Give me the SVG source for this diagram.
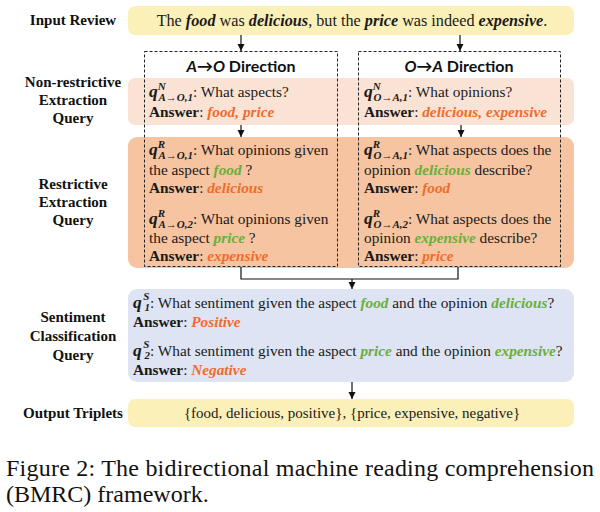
<svg xmlns="http://www.w3.org/2000/svg" width="600" height="512" viewBox="0 0 600 512">
<style>
.lbl{font-family:"Liberation Serif",serif;font-size:15px;font-weight:bold;text-anchor:middle;fill:#111}
.tx{font-family:"Liberation Serif",serif;font-size:15.3px;fill:#1a1a1a}
.b{font-weight:bold}
.bi{font-weight:bold;font-style:italic}
.or{fill:#EF6C2B;font-weight:bold;font-style:italic}
.gr{fill:#6AAF3A;font-weight:bold;font-style:italic}
.q{font-size:17.5px;font-weight:bold;font-style:italic}
.s{font-size:11px;font-weight:bold;font-style:italic}
.dir{font-family:Lato,"Liberation Sans",sans-serif;font-size:16px;font-weight:bold;text-anchor:middle;fill:#111}
.dir .i{font-style:italic}
.cap{font-family:"Liberation Serif",serif;font-size:24px;fill:#111}
.dash{fill:none;stroke:#222;stroke-width:1;stroke-dasharray:3 2}
.con{fill:none;stroke:#111;stroke-width:1.2}
</style>
<defs>
<marker id="ah" markerWidth="8" markerHeight="8" refX="7" refY="4" orient="auto" markerUnits="userSpaceOnUse">
<path d="M0,0.5 L7,4 L0,7.5 z" fill="#111"/>
</marker>
</defs>

<g id="labels">
<text class="lbl" x="73" y="25">Input Review</text>
<text class="lbl" x="73" y="87">Non-restrictive</text>
<text class="lbl" x="73" y="105">Extraction</text>
<text class="lbl" x="73" y="123">Query</text>
<text class="lbl" x="73" y="189">Restrictive</text>
<text class="lbl" x="73" y="207">Extraction</text>
<text class="lbl" x="73" y="225">Query</text>
<text class="lbl" x="73" y="322">Sentiment</text>
<text class="lbl" x="73" y="341">Classification</text>
<text class="lbl" x="73" y="360">Query</text>
<text class="lbl" x="73" y="418">Output Triplets</text>
</g>

<g id="input-review">
<rect x="128" y="6" width="446" height="29" rx="7" fill="#FCF0B9"/>
<text class="tx" x="352" y="25.5" text-anchor="middle" style="font-size:16.2px">The <tspan class="bi">food</tspan> was <tspan class="bi">delicious</tspan>, but the <tspan class="bi">price</tspan> was indeed <tspan class="bi">expensive</tspan>.</text>
</g>

<g id="nonrestrictive-band">
<rect x="128" y="78" width="446" height="47" rx="7" fill="#FAE3D5"/>
</g>
<g id="restrictive-band">
<rect x="128" y="137" width="446" height="131" rx="9" fill="#F6C4A1"/>
</g>

<g id="a2o-direction">
<rect class="dash" x="144.5" y="51.5" width="193" height="215"/>
<text class="dir" x="241" y="72"><tspan class="i">A</tspan>→<tspan class="i">O</tspan> Direction</text>
<text class="tx" x="149" y="97"><tspan class="q">q</tspan><tspan class="s" dy="-7.5">N</tspan><tspan class="s" x="158.5" dy="11.5">A→O,1</tspan><tspan dy="-4">: What aspects?</tspan></text>
<text class="tx" x="149" y="117"><tspan class="b">Answer</tspan>: <tspan class="or">food, price</tspan></text>
<text class="tx" x="149" y="155"><tspan class="q">q</tspan><tspan class="s" dy="-7.5">R</tspan><tspan class="s" x="158.5" dy="11.5">A→O,1</tspan><tspan dy="-4">: What opinions given</tspan></text>
<text class="tx" x="149" y="175">the aspect <tspan class="gr">food</tspan> ?</text>
<text class="tx" x="149" y="193"><tspan class="b">Answer</tspan>: <tspan class="or">delicious</tspan></text>
<text class="tx" x="149" y="224"><tspan class="q">q</tspan><tspan class="s" dy="-7.5">R</tspan><tspan class="s" x="158.5" dy="11.5">A→O,2</tspan><tspan dy="-4">: What opinions given</tspan></text>
<text class="tx" x="149" y="243">the aspect <tspan class="gr">price</tspan> ?</text>
<text class="tx" x="149" y="261"><tspan class="b">Answer</tspan>: <tspan class="or">expensive</tspan></text>
</g>

<g id="o2a-direction">
<rect class="dash" x="358.5" y="51.5" width="202" height="215"/>
<text class="dir" x="459" y="72"><tspan class="i">O</tspan>→<tspan class="i">A</tspan> Direction</text>
<text class="tx" x="364" y="97"><tspan class="q">q</tspan><tspan class="s" dy="-7.5">N</tspan><tspan class="s" x="373.5" dy="11.5">O→A,1</tspan><tspan dy="-4">: What opinions?</tspan></text>
<text class="tx" x="364" y="117"><tspan class="b">Answer</tspan>: <tspan class="or">delicious, expensive</tspan></text>
<text class="tx" x="364" y="155"><tspan class="q">q</tspan><tspan class="s" dy="-7.5">R</tspan><tspan class="s" x="373.5" dy="11.5">O→A,1</tspan><tspan dy="-4">: What aspects does the</tspan></text>
<text class="tx" x="364" y="175">opinion <tspan class="gr">delicious</tspan> describe?</text>
<text class="tx" x="364" y="193"><tspan class="b">Answer</tspan>: <tspan class="or">food</tspan></text>
<text class="tx" x="364" y="224"><tspan class="q">q</tspan><tspan class="s" dy="-7.5">R</tspan><tspan class="s" x="373.5" dy="11.5">O→A,2</tspan><tspan dy="-4">: What aspects does the</tspan></text>
<text class="tx" x="364" y="243">opinion <tspan class="gr">expensive</tspan> describe?</text>
<text class="tx" x="364" y="261"><tspan class="b">Answer</tspan>: <tspan class="or">price</tspan></text>
</g>

<g id="sentiment-query">
<rect x="128" y="289" width="446" height="93" rx="9" fill="#DEE4F3"/>
<text class="tx" x="133" y="308"><tspan class="q">q</tspan><tspan class="s" dx="1.5" dy="-8">S</tspan><tspan class="s" x="144.5" dy="10.5">1</tspan><tspan dy="-2.5">: What sentiment given the aspect </tspan><tspan class="gr">food</tspan> and the opinion <tspan class="gr">delicious</tspan>?</text>
<text class="tx" x="133" y="327"><tspan class="b">Answer</tspan>: <tspan class="or">Positive</tspan></text>
<text class="tx" x="133" y="356"><tspan class="q">q</tspan><tspan class="s" dx="1.5" dy="-8">S</tspan><tspan class="s" x="144.5" dy="10.5">2</tspan><tspan dy="-2.5">: What sentiment given the aspect </tspan><tspan class="gr">price</tspan> and the opinion <tspan class="gr">expensive</tspan>?</text>
<text class="tx" x="133" y="375"><tspan class="b">Answer</tspan>: <tspan class="or">Negative</tspan></text>
</g>

<g id="output-triplets">
<rect x="128" y="399" width="446" height="28" rx="7" fill="#FCF0B9"/>
<text class="tx" x="352" y="418" text-anchor="middle" style="font-size:15px">{food, delicious, positive}, {price, expensive, negative}</text>
</g>

<g id="connectors">
<path class="con" d="M241,35 V51" marker-end="url(#ah)"/>
<path class="con" d="M460,35 V51" marker-end="url(#ah)"/>
<path class="con" d="M241,125 V137" marker-end="url(#ah)"/>
<path class="con" d="M461,125 V137" marker-end="url(#ah)"/>
<path class="con" d="M241,267 V279 H458 V267"/>
<path class="con" d="M352,279 V289" marker-end="url(#ah)"/>
<path class="con" d="M352,382 V399" marker-end="url(#ah)"/>
</g>

<g id="caption">
<text class="cap" x="6" y="476" textLength="588" lengthAdjust="spacing">Figure 2: The bidirectional machine reading comprehension</text>
<text class="cap" x="6" y="502">(BMRC) framework.</text>
</g>
</svg>
